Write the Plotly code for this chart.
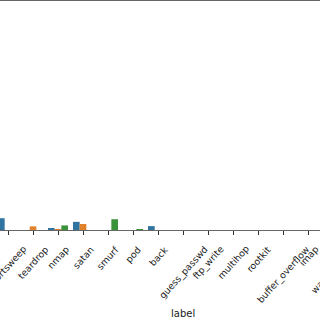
import plotly.graph_objects as go

categories = ["normal", "neptune", "warezclient", "ipsweep", "portsweep", "teardrop",
              "nmap", "satan", "smurf", "pod", "back", "guess_passwd", "ftp_write",
              "multihop", "rootkit", "buffer_overflow", "imap", "warezmaster", "phf",
              "land", "loadmodule", "spy", "perl"]
tcp = [53600, 41100, 890, 49, 2900, 0, 260, 2000, 0, 0, 956, 0, 0, 0, 0, 0, 0, 0, 0, 0, 0, 0, 0]
udp = [12434, 0, 0, 0, 0, 892, 110, 1480, 0, 0, 0, 0, 0, 0, 0, 0, 0, 0, 0, 0, 0, 0, 0]
icmp = [1309, 114, 0, 3550, 0, 0, 1123, 0, 2646, 201, 0, 0, 0, 0, 0, 0, 0, 0, 0, 0, 0, 0, 0]
series = [("tcp", tcp, "#3274A1"), ("udp", udp, "#E1812C"), ("icmp", icmp, "#3A923A")]

x_range = [3.68, 16.48]
y_max = 56280

fig = go.Figure()
for name, vals, col in series:
    fig.add_trace(go.Bar(x=categories, y=vals, name=name, marker_color=col,
                         marker_line_width=0))

lab_font = dict(family="DejaVu Sans", size=9.3, color="#1a1a1a")
ann = []
for i, c in enumerate(categories):
    if x_range[0] - 1 <= i <= x_range[1]:
        ann.append(dict(x=c, xref="x", y=0, yref="y", text=c, textangle=-48,
                        showarrow=False, xanchor="center", yanchor="top", yshift=-11,
                        font=lab_font))
# label just beyond the right edge (partly visible)
i = categories.index("warezmaster")
ann.append(dict(x=(i - x_range[0]) / (x_range[1] - x_range[0]), xref="paper", y=0, yref="y",
                text="warezmaster", textangle=-48, showarrow=False, xanchor="center",
                yanchor="top", yshift=-11, font=lab_font))
ann.append(dict(x=183 / 320, xref="paper", y=-0.366, yref="paper", text="label",
                showarrow=False, xanchor="center", yanchor="middle",
                font=dict(family="DejaVu Sans", size=10, color="#1a1a1a")))

fig.update_layout(
    width=320, height=320,
    margin=dict(l=0, r=0, t=1, b=90),
    paper_bgcolor="white", plot_bgcolor="white",
    barmode="group", bargap=0.2, bargroupgap=0,
    showlegend=False,
    annotations=ann,
    xaxis=dict(type="category", range=x_range, showticklabels=False,
               ticks="outside", ticklen=4, tickwidth=1, tickcolor="#333",
               showline=True, linecolor="#666", linewidth=1.2, mirror=True,
               showgrid=False, zeroline=False),
    yaxis=dict(range=[0, y_max], showticklabels=False, showgrid=False,
               zeroline=False, showline=False, ticks=""),
)
fig.write_html("out.html")
